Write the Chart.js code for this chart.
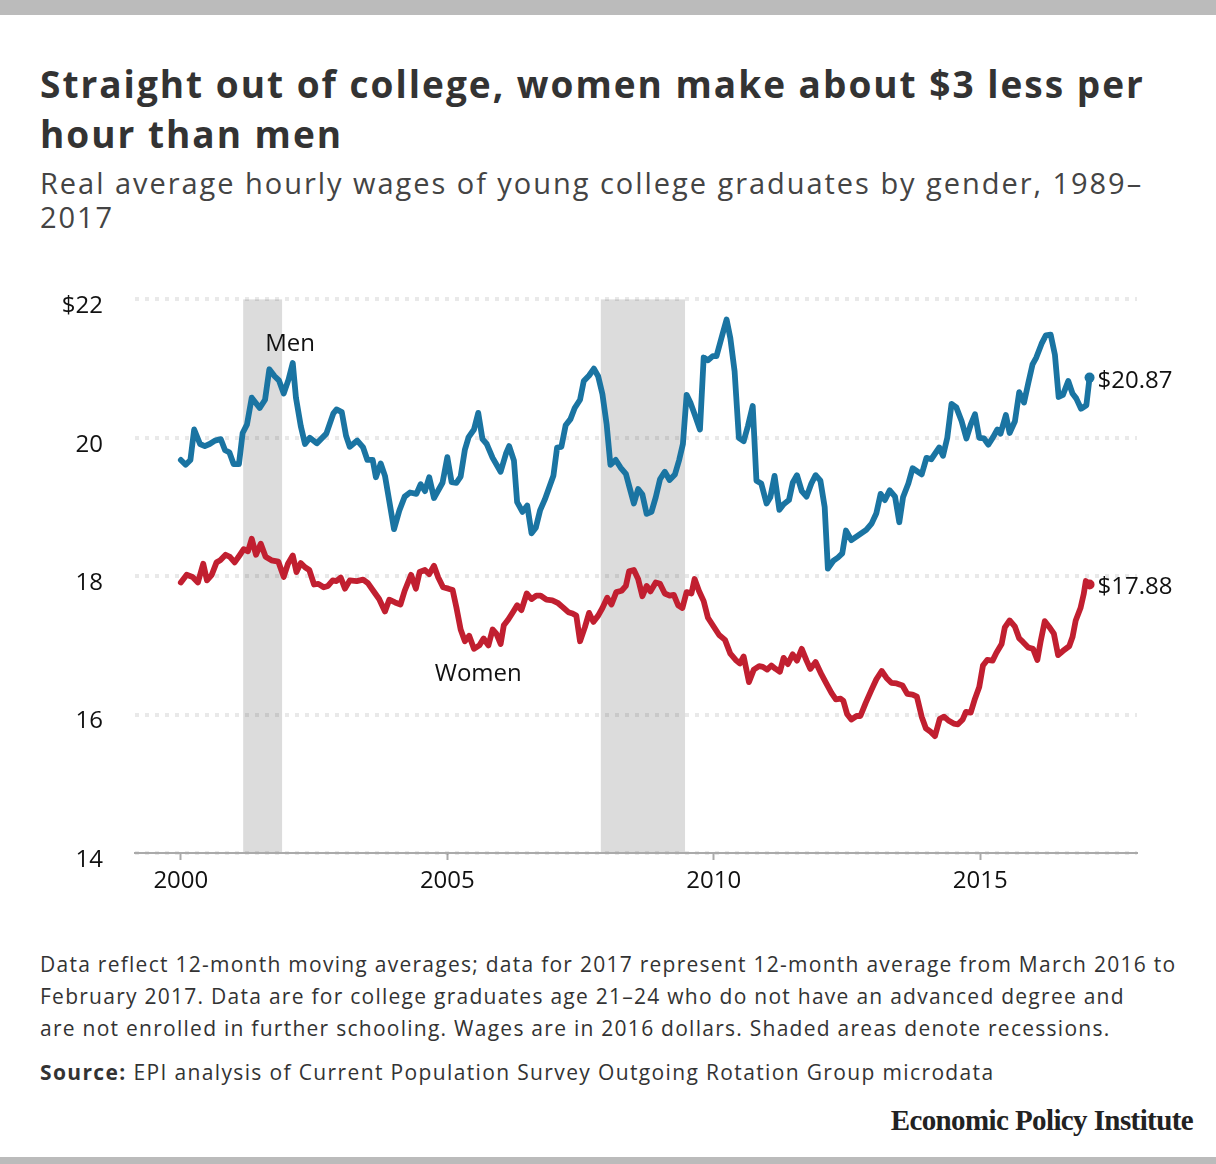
<!DOCTYPE html>
<html>
<head>
    <title>Young college graduate wages by gender</title>
    <script src="https://cdn.jsdelivr.net/npm/chart.js@4.4.0/dist/chart.umd.min.js"></script>
    <style>
        body { margin: 0; background: white; font-family: "Open Sans", Lato, sans-serif; }
        .page { position: relative; width: 1216px; height: 1164px; overflow: hidden; }
        .bar-top { position: absolute; left: 0; top: 0; width: 1216px; height: 15px; background: #bbbbbb; }
        .bar-bottom { position: absolute; left: 0; top: 1157px; width: 1216px; height: 7px; background: #bbbbbb; }
        h1 { position: absolute; left: 40px; top: 59px; margin: 0; font-size: 37px; line-height: 50px; font-weight: bold; color: #333; letter-spacing: 2px; white-space: nowrap; }
        .subtitle { position: absolute; left: 40px; top: 166px; font-size: 29px; line-height: 34px; color: #444; letter-spacing: 1.96px; white-space: nowrap; }
        .chart-box { position: absolute; left: 0; top: 253px; width: 1216px; height: 667px; }
        .notes { position: absolute; left: 40px; top: 948px; font-size: 21px; line-height: 32px; color: #333; letter-spacing: 1.26px; white-space: nowrap; }
        .source { position: absolute; left: 40px; top: 1056px; font-size: 21px; line-height: 32px; color: #333; letter-spacing: 1.36px; white-space: nowrap; }
        .logo { position: absolute; right: 23px; top: 1104px; font-family: "Liberation Serif", serif; font-weight: bold; font-size: 29px; color: #222; letter-spacing: -0.6px; }
    </style>
</head>
<body>
<div class="page">
    <div class="bar-top"></div>
    <h1>Straight out of college, women make about $3 less per<br>hour than men</h1>
    <div class="subtitle">Real average hourly wages of young college graduates by gender, 1989–<br>2017</div>
    <div class="chart-box"><canvas id="wageChart" width="1216" height="667"></canvas></div>
    <div class="notes">Data reflect 12-month moving averages; data for 2017 represent 12-month average from March 2016 to<br>February 2017. Data are for college graduates age 21–24 who do not have an advanced degree and<br>are not enrolled in further schooling. Wages are in 2016 dollars. Shaded areas denote recessions.</div>
    <div class="source"><b>Source:</b> EPI analysis of Current Population Survey Outgoing Rotation Group microdata</div>
    <div class="logo">Economic Policy Institute</div>
    <div class="bar-bottom"></div>
</div>

<script>
    // values (decimal years)
    const menYears = [2000.00,2000.09,2000.18,2000.25,2000.36,2000.45,2000.54,2000.64,2000.75,2000.83,2000.91,2000.99,
        2001.09,2001.16,2001.24,2001.33,2001.48,2001.58,2001.66,2001.76,2001.84,2001.93,2002.02,2002.10,2002.16,2002.25,
        2002.33,2002.42,2002.55,2002.73,2002.86,2002.92,2003.02,2003.10,2003.17,2003.31,2003.42,2003.50,2003.60,2003.66,
        2003.75,2003.83,2003.91,2004.00,2004.10,2004.20,2004.30,2004.42,2004.50,2004.58,2004.66,2004.75,2004.91,2005.00,
        2005.08,2005.17,2005.25,2005.33,2005.40,2005.50,2005.58,2005.66,2005.74,2005.85,2006.00,2006.10,2006.16,2006.25,
        2006.31,2006.41,2006.50,2006.58,2006.66,2006.74,2006.83,2006.99,2007.06,2007.14,2007.22,2007.31,2007.39,2007.49,
        2007.56,2007.66,2007.75,2007.83,2007.91,2007.99,2008.06,2008.16,2008.25,2008.35,2008.42,2008.50,2008.58,2008.66,
        2008.74,2008.83,2008.91,2008.99,2009.08,2009.17,2009.27,2009.35,2009.42,2009.49,2009.56,2009.64,2009.74,2009.81,
        2009.89,2009.98,2010.05,2010.16,2010.24,2010.31,2010.39,2010.47,2010.56,2010.64,2010.73,2010.80,2010.89,2010.99,
        2011.06,2011.14,2011.23,2011.31,2011.41,2011.48,2011.56,2011.65,2011.74,2011.83,2011.91,2012.00,2012.08,2012.14,
        2012.24,2012.33,2012.41,2012.48,2012.58,2012.71,2012.86,2012.96,2013.05,2013.13,2013.21,2013.30,2013.40,2013.48,
        2013.55,2013.65,2013.73,2013.90,2013.99,2014.08,2014.23,2014.30,2014.38,2014.46,2014.55,2014.65,2014.74,2014.82,
        2014.90,2014.98,2015.07,2015.15,2015.24,2015.32,2015.38,2015.48,2015.55,2015.65,2015.73,2015.82,2015.90,2015.98,
        2016.05,2016.15,2016.23,2016.32,2016.40,2016.47,2016.55,2016.65,2016.73,2016.80,2016.89,2016.99,2017.05];
    const menWages = [19.68,19.61,19.68,20.12,19.91,19.88,19.91,19.96,19.98,19.82,19.79,19.62,
        19.62,20.07,20.19,20.58,20.43,20.55,20.99,20.89,20.83,20.64,20.84,21.08,20.58,20.17,
        19.91,20.00,19.92,20.06,20.35,20.41,20.37,20.03,19.87,19.96,19.86,19.68,19.68,19.43,
        19.63,19.45,19.09,18.68,18.95,19.15,19.21,19.19,19.33,19.23,19.43,19.13,19.35,19.72,
        19.36,19.35,19.44,19.83,20.01,20.12,20.36,19.98,19.91,19.71,19.51,19.77,19.88,19.67,
        19.07,18.93,19.02,18.62,18.70,18.95,19.11,19.45,19.86,19.87,20.18,20.27,20.43,20.55,
        20.82,20.90,21.00,20.89,20.63,20.19,19.61,19.68,19.57,19.48,19.28,19.05,19.26,19.18,
        18.90,18.93,19.14,19.40,19.51,19.39,19.47,19.68,19.91,20.62,20.51,20.34,20.12,21.16,
        21.12,21.18,21.18,21.49,21.71,21.44,20.96,20.00,19.95,20.17,20.46,19.38,19.34,19.05,
        19.14,19.45,18.96,19.04,19.10,19.35,19.46,19.23,19.15,19.34,19.46,19.38,19.00,18.11,
        18.22,18.27,18.33,18.66,18.52,18.59,18.67,18.76,18.91,19.19,19.10,19.24,19.15,18.78,
        19.14,19.34,19.56,19.47,19.71,19.69,19.86,19.74,20.00,20.49,20.44,20.24,19.99,20.19,
        20.34,20.00,19.99,19.90,20.01,20.12,20.06,20.33,20.07,20.24,20.66,20.51,20.79,21.06,
        21.16,21.36,21.48,21.49,21.20,20.59,20.62,20.82,20.64,20.57,20.42,20.47,20.87];

    const womenYears = [2000.00,2000.11,2000.22,2000.32,2000.42,2000.49,2000.58,2000.67,2000.74,2000.84,2000.92,
        2001.01,2001.11,2001.18,2001.26,2001.33,2001.41,2001.50,2001.59,2001.70,2001.83,2001.93,2002.01,2002.10,2002.17,
        2002.25,2002.33,2002.41,2002.50,2002.58,2002.68,2002.76,2002.85,2002.92,2003.00,2003.08,2003.17,2003.30,2003.42,
        2003.51,2003.61,2003.72,2003.83,2003.91,2004.02,2004.12,2004.20,2004.32,2004.41,2004.48,2004.58,2004.66,2004.75,
        2004.83,2004.92,2005.02,2005.10,2005.17,2005.25,2005.33,2005.41,2005.50,2005.60,2005.68,2005.77,2005.85,2005.92,
        2006.00,2006.06,2006.14,2006.23,2006.31,2006.39,2006.49,2006.58,2006.67,2006.75,2006.86,2006.97,2007.08,2007.17,
        2007.27,2007.35,2007.42,2007.49,2007.58,2007.66,2007.74,2007.83,2007.91,2008.00,2008.08,2008.17,2008.27,2008.35,
        2008.41,2008.50,2008.58,2008.66,2008.74,2008.81,2008.91,2008.99,2009.08,2009.17,2009.25,2009.33,2009.41,2009.49,
        2009.58,2009.64,2009.72,2009.81,2009.89,2009.99,2010.10,2010.21,2010.31,2010.41,2010.49,2010.56,2010.66,2010.75,
        2010.85,2010.92,2011.00,2011.08,2011.16,2011.24,2011.31,2011.39,2011.48,2011.56,2011.65,2011.74,2011.81,2011.91,
        2012.02,2012.11,2012.21,2012.29,2012.38,2012.43,2012.50,2012.58,2012.68,2012.75,2012.85,2012.96,2013.05,2013.15,
        2013.24,2013.33,2013.43,2013.54,2013.63,2013.73,2013.81,2013.90,2013.98,2014.07,2014.15,2014.24,2014.32,2014.41,
        2014.50,2014.58,2014.67,2014.73,2014.82,2014.90,2014.98,2015.05,2015.13,2015.23,2015.30,2015.40,2015.46,2015.55,
        2015.65,2015.73,2015.80,2015.90,2015.99,2016.07,2016.13,2016.21,2016.29,2016.38,2016.46,2016.55,2016.67,2016.73,
        2016.79,2016.88,2016.94,2016.98,2017.05];
    const womenWages = [17.91,18.02,17.99,17.91,18.18,17.94,18.02,18.20,18.23,18.31,18.28,
        18.20,18.31,18.39,18.36,18.54,18.31,18.47,18.28,18.23,18.21,17.99,18.18,18.30,18.06,
        18.19,18.13,18.09,17.88,17.89,17.84,17.86,17.94,17.93,17.98,17.82,17.94,17.93,17.95,
        17.90,17.79,17.67,17.49,17.66,17.62,17.59,17.79,18.02,17.82,18.06,18.09,18.03,18.15,
        17.98,17.84,17.82,17.80,17.55,17.23,17.06,17.14,16.95,17.00,17.10,17.00,17.23,17.17,
        17.02,17.29,17.37,17.48,17.58,17.51,17.75,17.67,17.72,17.72,17.66,17.65,17.61,17.55,
        17.48,17.46,17.43,17.06,17.26,17.47,17.34,17.43,17.54,17.69,17.59,17.77,17.79,17.86,
        18.07,18.09,17.96,17.71,17.86,17.78,17.91,17.89,17.75,17.72,17.73,17.58,17.54,17.77,
        17.75,17.96,17.79,17.64,17.40,17.28,17.15,17.08,16.88,16.79,16.74,16.84,16.47,16.65,
        16.70,16.69,16.65,16.71,16.66,16.62,16.82,16.73,16.87,16.78,16.95,16.78,16.66,16.76,
        16.58,16.45,16.31,16.22,16.23,16.20,16.01,15.93,15.98,15.98,16.17,16.36,16.51,16.63,
        16.53,16.46,16.45,16.42,16.30,16.29,16.26,15.97,15.80,15.75,15.69,15.94,15.97,15.91,
        15.87,15.86,15.93,16.04,16.03,16.23,16.40,16.71,16.79,16.78,16.89,17.02,17.26,17.36,
        17.27,17.10,17.05,16.97,16.95,16.79,17.05,17.35,17.27,17.17,16.86,16.92,16.99,17.12,
        17.36,17.54,17.74,17.93,17.88];

    const recessions = [[2001.17, 2001.90], [2007.88, 2009.46]];
    const xTicks = [2000, 2005, 2010, 2015];
    const yTicks = [14, 16, 18, 20, 22];

    const blue = '#1a74a2';
    const red = '#c11f30';
    const font = '"Open Sans", Lato, sans-serif';

    function toPoints(xs, ys) {
        return xs.map((x, i) => ({ x: x, y: ys[i] }));
    }

    // grey recession bands, behind the gridlines
    const recessionBands = {
        id: 'recessionBands',
        beforeDraw(chart) {
            const { ctx, chartArea, scales } = chart;
            ctx.save();
            ctx.fillStyle = '#dcdcdc';
            recessions.forEach(r => {
                const x1 = scales.x.getPixelForValue(r[0]);
                const x2 = scales.x.getPixelForValue(r[1]);
                ctx.fillRect(x1, chartArea.top, x2 - x1, chartArea.bottom - chartArea.top);
            });
            ctx.restore();
        }
    };

    // series names and end values
    const lineLabels = {
        id: 'lineLabels',
        afterDatasetsDraw(chart) {
            const { ctx, scales } = chart;
            ctx.save();
            ctx.font = '24px ' + font;
            ctx.fillStyle = '#111';
            ctx.textBaseline = 'middle';
            ctx.textAlign = 'center';
            ctx.fillText('Men', scales.x.getPixelForValue(2002.05), scales.y.getPixelForValue(21.35));
            ctx.fillText('Women', scales.x.getPixelForValue(2005.58), scales.y.getPixelForValue(16.58));
            ctx.textAlign = 'left';
            const mLast = menWages.length - 1, wLast = womenWages.length - 1;
            ctx.fillText('$' + menWages[mLast].toFixed(2), scales.x.getPixelForValue(menYears[mLast]) + 8, scales.y.getPixelForValue(menWages[mLast]) + 4);
            ctx.fillText('$' + womenWages[wLast].toFixed(2), scales.x.getPixelForValue(womenYears[wLast]) + 8, scales.y.getPixelForValue(womenWages[wLast]) + 3);
            ctx.restore();
        }
    };

    function endDot(n) {
        return Array.from({ length: n }, (_, i) => i === n - 1 ? 5 : 0);
    }

    const ctx = document.getElementById('wageChart').getContext('2d');
    new Chart(ctx, {
        type: 'line',
        data: {
            datasets: [{
                label: 'Men',
                data: toPoints(menYears, menWages),
                borderColor: blue,
                backgroundColor: blue,
                borderWidth: 5.8,
                pointRadius: endDot(menYears.length),
                pointBorderWidth: 0,
                borderJoinStyle: 'round',
                borderCapStyle: 'round',
                tension: 0
            }, {
                label: 'Women',
                data: toPoints(womenYears, womenWages),
                borderColor: red,
                backgroundColor: red,
                borderWidth: 5.8,
                pointRadius: endDot(womenYears.length),
                pointBorderWidth: 0,
                borderJoinStyle: 'round',
                borderCapStyle: 'round',
                tension: 0
            }]
        },
        options: {
            responsive: false,
            animation: false,
            layout: { padding: { top: 18, right: 79, left: 0, bottom: 0 } },
            plugins: {
                legend: { display: false },
                tooltip: { enabled: false }
            },
            scales: {
                x: {
                    type: 'linear',
                    min: 1999.14,
                    max: 2017.94,
                    afterBuildTicks: s => { s.ticks = xTicks.map(v => ({ value: v })); },
                    afterFit: s => { s.height = 67; },
                    grid: { drawOnChartArea: false, drawTicks: true, tickLength: 7, tickColor: '#aaaaaa', tickWidth: 2 },
                    border: { display: true, color: '#aaaaaa', width: 2 },
                    ticks: {
                        padding: 7,
                        color: '#111',
                        font: { family: font, size: 24 },
                        callback: v => String(v),
                        maxRotation: 0
                    }
                },
                y: {
                    min: 14,
                    max: 22,
                    afterBuildTicks: s => { s.ticks = yTicks.map(v => ({ value: v })); },
                    afterFit: s => { s.width = 135; },
                    grid: { color: 'rgba(0,0,0,0.085)', lineWidth: 4, drawTicks: false },
                    border: { display: false, dash: [4, 6] },
                    ticks: {
                        padding: 32,
                        labelOffset: 7,
                        color: '#111',
                        font: { family: font, size: 24 },
                        callback: v => v === 22 ? '$22' : String(v)
                    }
                }
            }
        },
        plugins: [recessionBands, lineLabels]
    });
</script>
</body>
</html>
